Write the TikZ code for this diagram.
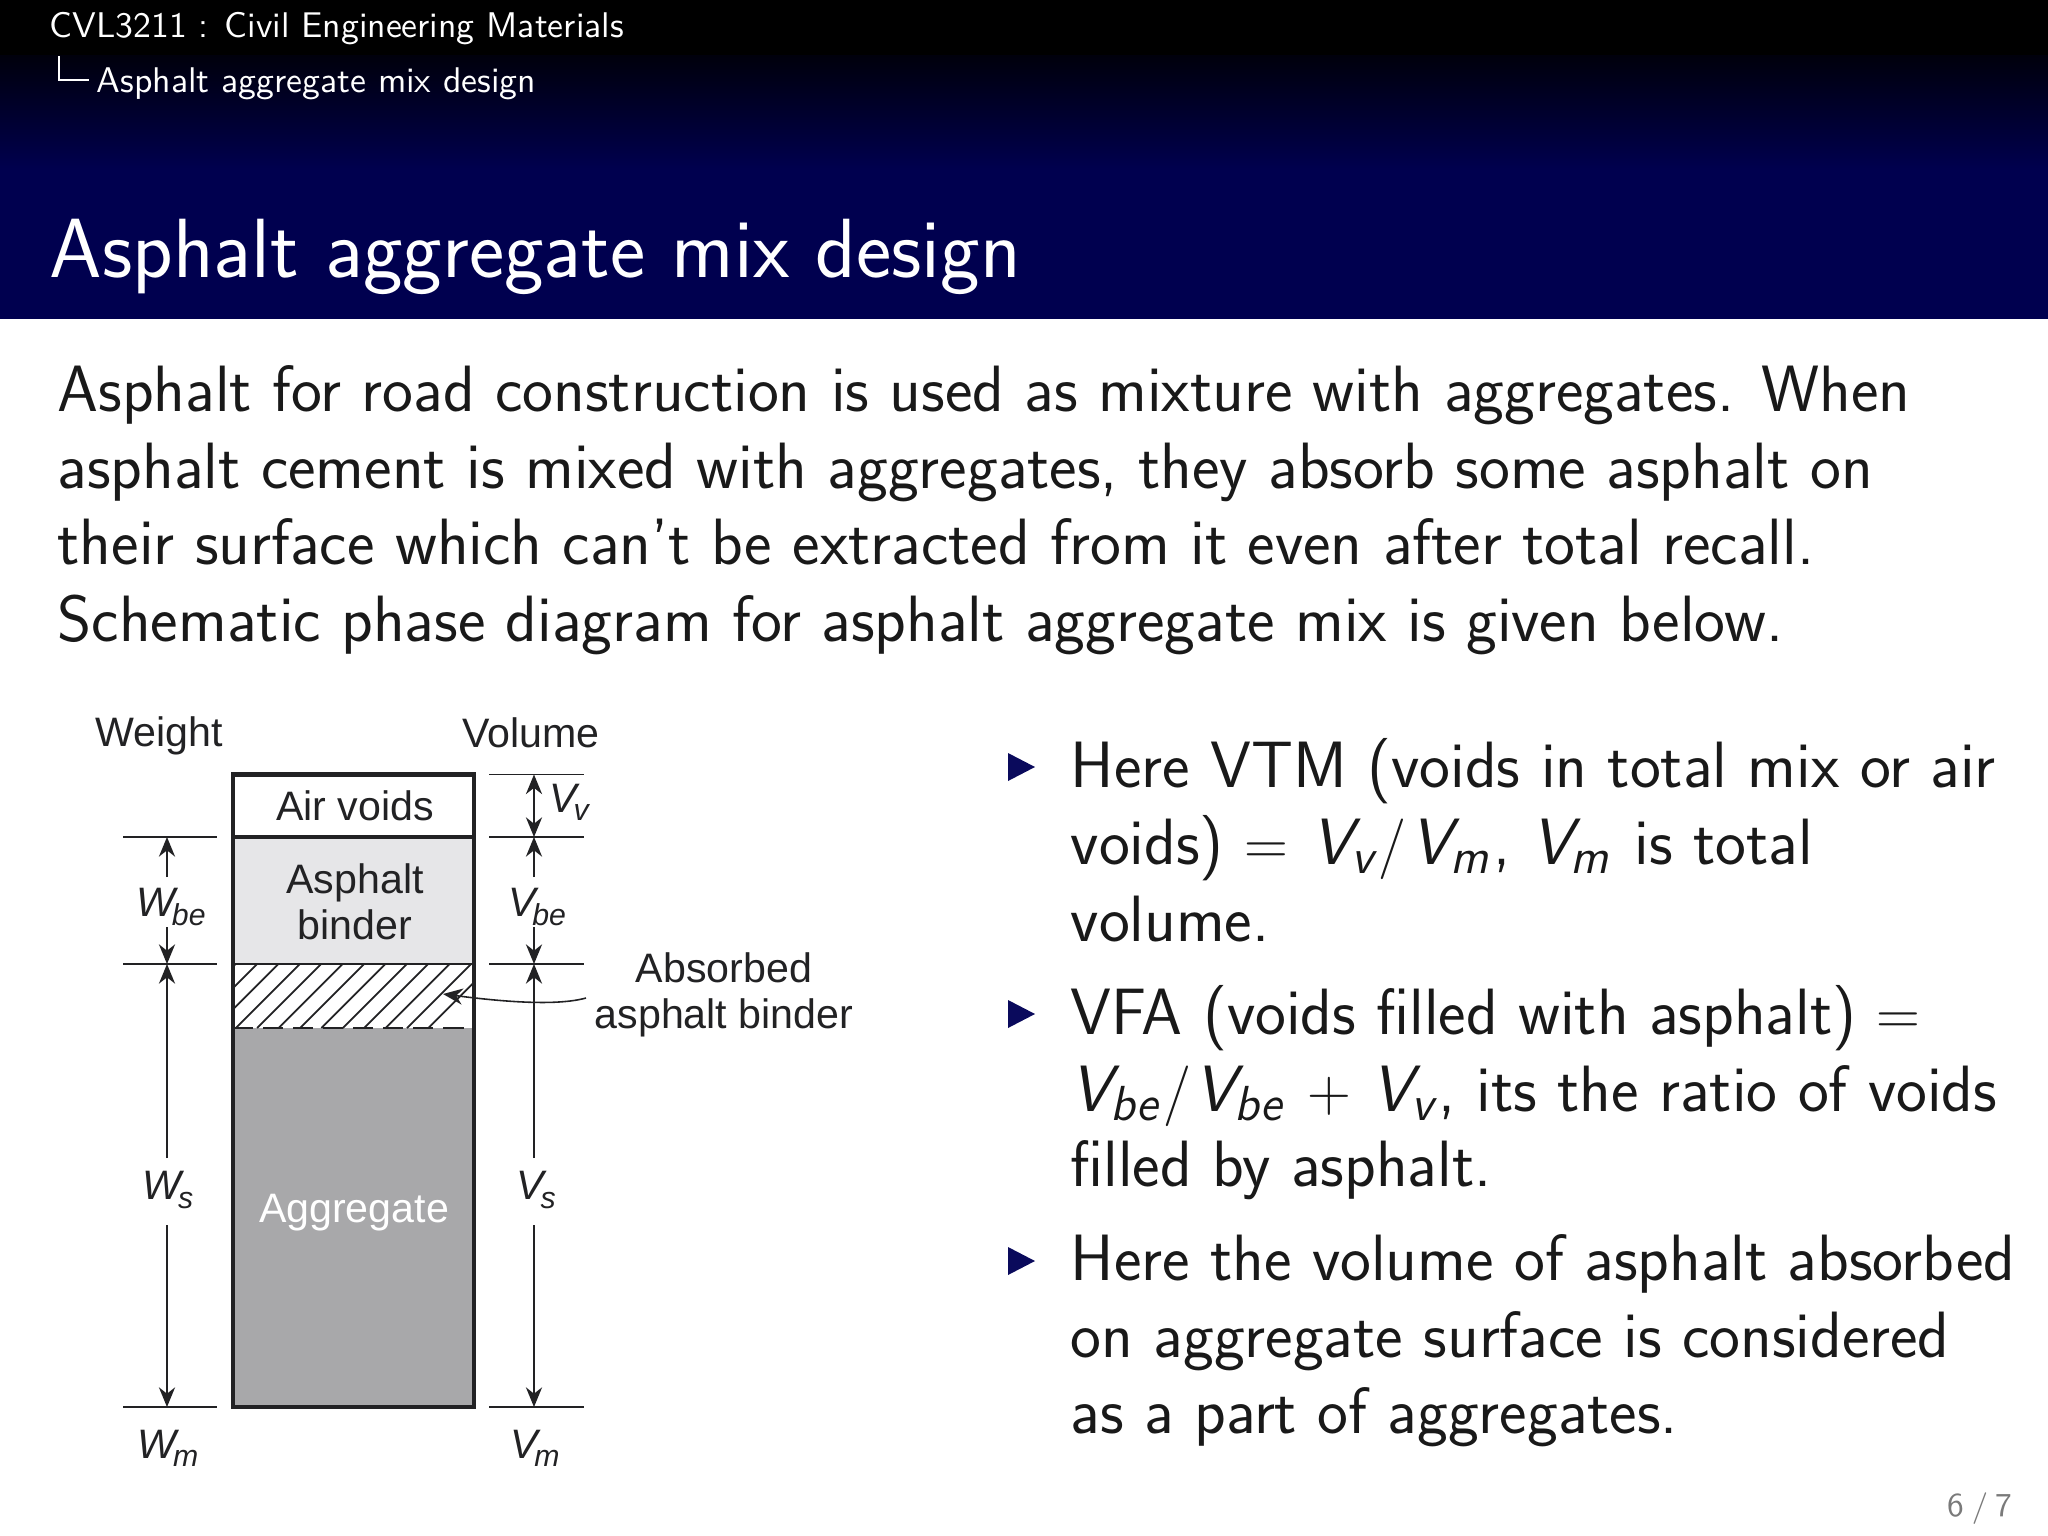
\documentclass[tikz,border=0pt]{standalone}
\usepackage{fontspec}
\usetikzlibrary{arrows.meta}
\newfontfamily\figfont{Liberation Sans}
\definecolor{headblue}{HTML}{00004F}
\definecolor{bulletblue}{HTML}{0A0A5C}
\definecolor{figink}{HTML}{222224}
\definecolor{binderfill}{HTML}{E6E6E8}
\definecolor{aggfill}{HTML}{A8A8AA}
\newcommand{\slidevar}[2]{\textit{#1\kern-.02em\raisebox{-.15em}{\fontsize{14pt}{14pt}\selectfont #2}\kern.08em}}
\newcommand{\figvar}[2]{\textit{#1\kern-.08em\raisebox{-.2em}{\fontsize{8.6pt}{8.6pt}\selectfont #2}}}
\tikzset{
    slidetext/.style={anchor=base west, inner sep=0pt, font=\fontsize{18.63pt}{21pt}\selectfont\sffamily, text=black!90},
    headtext/.style={anchor=base west, inner sep=0pt, text=white, font=\fontsize{10.15pt}{12pt}\selectfont\sffamily},
    figtext/.style={inner sep=0pt, align=center, text=figink, font=\fontsize{11.7pt}{13.2pt}\selectfont\figfont},
    varlabel/.style={figtext, inner sep=2pt},
    tick/.style={figink, line width=0.55pt},
    dimline/.style={figink, line width=0.45pt, -{Stealth[length=5.6pt, width=4.6pt]}},
    phase/.style={figink, line width=1.4pt}
}
\begin{document}
\begin{tikzpicture}[x=0.01cm, y=-0.01cm]

    % the frame
    \useasboundingbox (0, 0) rectangle (2048, 1536);
    \fill[white] (0, 0) rectangle (2048, 1536);

    % the header
    \fill[headblue] (0, 170) rectangle (2048, 319);
    \shade[top color=headblue!15!black, bottom color=headblue] (0, 55) rectangle (2048, 170);
    \fill[black] (0, 0) rectangle (2048, 55);
    \draw[white, line width=0.5pt] (59, 56) -- (59, 80) -- (89, 80);
    \node[headtext] (course) at (49, 37) {CVL3211 : Civil Engineering Materials};
    \node[headtext] (section) at (96, 92) {Asphalt aggregate mix design};
    \node[headtext, font=\fontsize{23.9pt}{27pt}\selectfont\sffamily] (title) at (49, 277) {Asphalt aggregate mix design};

    % the paragraph
    \node[slidetext] (para1) at (57, 411) {Asphalt for road construction is used as mixture with aggregates. When};
    \node[slidetext] (para2) at (57, 488) {asphalt cement is mixed with aggregates, they absorb some asphalt on};
    \node[slidetext] (para3) at (57, 564) {their surface which can’t be extracted from it even after total recall.};
    \node[slidetext] (para4) at (57, 641) {Schematic phase diagram for asphalt aggregate mix is given below.};

    % the bullets
    \foreach \y in {767, 1014, 1261} {
        \fill[bulletblue] (1008, {\y-14}) -- (1035, \y) -- (1008, {\y+14}) -- cycle;
    }
    \node[slidetext] (itema1) at (1070, 787) {Here VTM (voids in total mix or air};
    \node[slidetext] (itema2) at (1070, 864) {voids) $=$ \kern.05em\slidevar{V}{v}$/$\kern.06em\slidevar{V}{m}, \slidevar{V}{m} is total};
    \node[slidetext] (itema3) at (1070, 941) {volume.};
    \node[slidetext] (itemb1) at (1070, 1034) {VFA (voids filled with asphalt) $=$};
    \node[slidetext] (itemb2) at (1070, 1111) {\slidevar{V}{be}$/$\kern.06em\slidevar{V}{be} $+$ \slidevar{V}{v}, its the ratio of voids};
    \node[slidetext] (itemb3) at (1070, 1186) {filled by asphalt.};
    \node[slidetext] (itemc1) at (1070, 1280) {Here the volume of asphalt absorbed};
    \node[slidetext] (itemc2) at (1070, 1357) {on aggregate surface is considered};
    \node[slidetext] (itemc3) at (1070, 1433) {as a part of aggregates.};
    \node[slidetext, text=black!52, font=\fontsize{9.5pt}{11pt}\selectfont\sffamily] (pageno) at (1947, 1516) {6\kern.22em$/$\kern.22em7};

    % the phases
    \fill[binderfill] (233, 837) rectangle (474, 964);
    \fill[aggfill] (233, 1028) rectangle (474, 1407);
    \begin{scope}
        \path[clip] (233, 964) rectangle (474, 1028);
        \foreach \i in {-1,...,11} {
            \draw[figink, line width=0.5pt] ({193+\i*21.4}, 1028) -- ({257+\i*21.4}, 964);
        }
    \end{scope}
    \draw[phase] (233, 1028) -- (233, 774.5) -- (474, 774.5) -- (474, 1028);
    \draw[phase] (233, 1028) -- (233, 1407) -- (474, 1407) -- (474, 1028);
    \draw[phase] (233, 837) -- (474, 837);
    \draw[figink, line width=0.5pt] (233, 964) -- (474, 964);
    \draw[figink, line width=0.6pt, dash pattern=on 5.7pt off 2.85pt] (233, 1028) -- (474, 1028);

    % the phase names
    \node[figtext] (airvoids) at (355, 806) {Air voids};
    \node[figtext] (binder) at (355, 902) {Asphalt\\binder};
    \node[figtext, text=white] (aggregate) at (354, 1213) {Aggregate};
    \node[figtext] (weight) at (159, 736) {Weight};
    \node[figtext] (volume) at (531, 733) {Volume};
    \node[figtext] (absorbed) at (724, 995) {Absorbed\\asphalt binder};

    % the ticks
    \foreach \y in {837, 964, 1407} {
        \draw[tick] (123, \y) -- (217, \y);
    }
    \foreach \y in {774.5, 837, 964, 1407} {
        \draw[tick] (489, \y) -- (584, \y);
    }
    \coordinate (wa) at (167, 837);
    \coordinate (wb) at (167, 964);
    \coordinate (wc) at (167, 1407);
    \coordinate (va) at (534, 774.5);
    \coordinate (vb) at (534, 837);
    \coordinate (vc) at (534, 964);
    \coordinate (vd) at (534, 1407);

    % the labels
    \node[varlabel] (wbe) at (171, 907) {\figvar{W}{be}};
    \node[varlabel] (ws) at (168, 1190) {\figvar{W}{s}};
    \node[varlabel] (wm) at (168, 1448) {\figvar{W}{m}};
    \node[varlabel] (vv) at (569, 802) {\figvar{V}{v}};
    \node[varlabel] (vbe) at (537, 907) {\figvar{V}{be}};
    \node[varlabel] (vs) at (536, 1190) {\figvar{V}{s}};
    \node[varlabel] (vm) at (535, 1448) {\figvar{V}{m}};

    % the arrows
    \coordinate (wbeup) at (167, 877);
    \coordinate (wbedown) at (167, 927);
    \coordinate (wsup) at (167, 1158);
    \coordinate (wsdown) at (167, 1225);
    \coordinate (vbeup) at (534, 877);
    \coordinate (vbedown) at (534, 927);
    \coordinate (vsup) at (534, 1158);
    \coordinate (vsdown) at (534, 1225);
    \coordinate (vvmid) at (534, 806);
    \draw[dimline] (wbeup) -- (wa);
    \draw[dimline] (wbedown) -- (wb);
    \draw[dimline] (wsup) -- (wb);
    \draw[dimline] (wsdown) -- (wc);
    \draw[dimline] (vvmid) -- (va);
    \draw[dimline] (vvmid) -- (vb);
    \draw[dimline] (vbeup) -- (vb);
    \draw[dimline] (vbedown) -- (vc);
    \draw[dimline] (vsup) -- (vc);
    \draw[dimline] (vsdown) -- (vd);

    % the pointer
    \coordinate (pointerfrom) at (586, 998);
    \coordinate (pointerto) at (443, 994);
    \draw[dimline] (pointerfrom) .. controls (557, 1006) and (505, 1002) .. (pointerto);

\end{tikzpicture}
\end{document}
